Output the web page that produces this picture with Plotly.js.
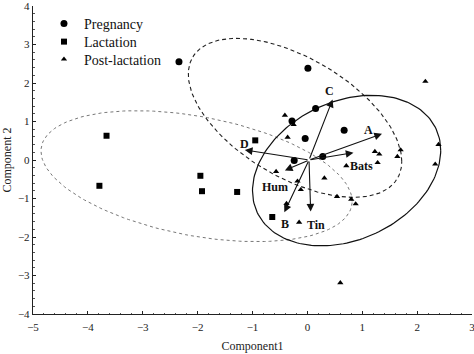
<!DOCTYPE html>
<html><head><meta charset="utf-8">
<script src="https://cdn.plot.ly/plotly-3.0.1.min.js"></script>
<style>html,body{margin:0;padding:0;background:#fff}</style>
</head><body><div id="chart" style="width:474px;height:354px"></div>
<script>
// Pregnancy (circles)
const pregX = [-2.34, 0.01, 0.15, -0.28, 0.67, -0.04, 0.28, -0.24];
const pregY = [2.55, 2.38, 1.34, 1.01, 0.77, 0.56, 0.09, -0.01];
// Lactation (squares)
const lactX = [-3.66, -3.79, -1.95, -1.92, -1.28, -0.95, -0.64];
const lactY = [0.63, -0.67, -0.41, -0.81, -0.83, 0.51, -1.48];
// Post-lactation (triangles)
const postX = [2.15, -0.41, -0.25, -0.36, 1.23, 1.31, 1.70, 1.64, 2.39, 2.33, 1.28, 0.71, -0.57, 0.31, -0.18, -0.12, 0.54, 0.80, 0.88, -0.15, 0.60, -0.38];
const postY = [2.04, 1.16, 0.92, 0.59, 0.22, 0.15, 0.26, 0.09, 0.40, -0.11, -0.07, -0.15, -0.30, -0.47, -0.55, -0.77, -0.95, -1.02, -1.14, -1.62, -3.19, -1.13];

// Ellipses: centre, half-extents, covariance-like term (Pregnancy, Lactation, Post-lactation)
const ellNames = ['Pregnancy', 'Lactation', 'Post-lactation'];
const ellCx = [-0.225, -2.02, 0.715];
const ellCy = [1.095, -0.42, -0.275];
const ellHx = [1.945, 2.835, 1.715];
const ellHy = [2.065, 1.70, 1.955];
const ellSxy = [-2.2, -1.85, 0.9];

// Biplot vectors
const vecOrigin = [0.03, 0.0];
const vecNames = ['A', 'B', 'C', 'D', 'Bats', 'Hum', 'Tin'];
const vecX = [1.36, -0.42, 0.46, -1.14, 0.84, -0.41, 0.06];
const vecY = [0.68, -1.36, 1.57, 0.26, 0.19, -0.27, -1.34];
const labX = [1.11, -0.41, 0.40, -1.14, 0.99, -0.59, 0.16];
const labY = [0.79, -1.66, 1.78, 0.42, -0.15, -0.70, -1.69];

const serif = 'Liberation Serif, Times New Roman, serif';

function ellipse(i) {
  const Sxx = ellHx[i] * ellHx[i], Syy = ellHy[i] * ellHy[i], Sxy = ellSxy[i];
  const L11 = Math.sqrt(Sxx), L21 = Sxy / L11, L22 = Math.sqrt(Math.max(Syy - L21 * L21, 0.01));
  const xs = [], ys = [];
  for (let k = 0; k <= 180; k++) {
    const t = 2 * Math.PI * k / 180;
    xs.push(ellCx[i] + L11 * Math.cos(t));
    ys.push(ellCy[i] + L21 * Math.cos(t) + L22 * Math.sin(t));
  }
  return [xs, ys];
}
const ellStyles = [
  {color: '#222', width: 1.1, dash: '4px,3px'},
  {color: '#777', width: 1, dash: 'dot'},
  {color: '#111', width: 1.2, dash: 'solid'}
];
const traces = [];
for (let i = 0; i < 3; i++) {
  const [xs, ys] = ellipse(i);
  traces.push({x: xs, y: ys, mode: 'lines', line: ellStyles[i], showlegend: false, hoverinfo: 'skip', name: ellNames[i] + ' ellipse'});
}
traces.push({x: pregX, y: pregY, mode: 'markers', name: 'Pregnancy', legend: 'legend', marker: {symbol: 'circle', size: 7, color: '#000'}});
traces.push({x: lactX, y: lactY, mode: 'markers', name: 'Lactation', legend: 'legend2', marker: {symbol: 'square', size: 6, color: '#000'}});
traces.push({x: postX, y: postY, mode: 'markers', name: 'Post-lactation', legend: 'legend3', marker: {symbol: 'triangle-up', size: 5.5, color: '#000'}});

const annotations = [];
for (let i = 0; i < vecNames.length; i++) {
  annotations.push({x: vecX[i], y: vecY[i], ax: vecOrigin[0], ay: vecOrigin[1], xref: 'x', yref: 'y', axref: 'x', ayref: 'y',
    text: '', showarrow: true, arrowhead: 2, arrowsize: 1.4, arrowwidth: 1.1, arrowcolor: '#111'});
  annotations.push({x: labX[i], y: labY[i], xref: 'x', yref: 'y', text: '<b>' + vecNames[i] + '</b>', showarrow: false,
    font: {family: serif, size: 12, color: '#111'}});
}

const legStyle = (y) => ({x: 0.025, y: y, xanchor: 'left', yanchor: 'top', bgcolor: 'rgba(0,0,0,0)',
  font: {family: serif, size: 14, color: '#111'}, itemsizing: 'trace'});

const layout = {
  width: 474, height: 354,
  margin: {l: 33, r: 2, t: 6, b: 40},
  paper_bgcolor: '#fff', plot_bgcolor: '#fff',
  font: {family: serif, color: '#222'},
  xaxis: {range: [-5, 3], dtick: 1, tick0: -5, showgrid: false, zeroline: false, showline: true, linecolor: '#222', linewidth: 1.2,
    ticks: 'inside', ticklen: 3, tickcolor: '#222', tickfont: {family: serif, size: 11, color: '#222'},
    ticklabeloverflow: 'allow', ticklabelstandoff: 3,
    minor: {dtick: 0.2, ticks: 'inside', ticklen: 1.5, tickcolor: '#555'},
    title: {text: 'Component1', font: {family: serif, size: 12, color: '#222'}, standoff: 9}},
  yaxis: {range: [-4, 4], dtick: 1, showgrid: false, zeroline: false, showline: true, linecolor: '#222', linewidth: 1.2,
    ticks: 'inside', ticklen: 3, tickcolor: '#222', tickfont: {family: serif, size: 11, color: '#222'},
    ticklabeloverflow: 'allow',
    minor: {dtick: 0.2, ticks: 'inside', ticklen: 1.5, tickcolor: '#555'},
    title: {text: 'Component 2', font: {family: serif, size: 12, color: '#222'}, standoff: 6}},
  legend: legStyle(0.994),
  legend2: legStyle(0.935),
  legend3: legStyle(0.878),
  annotations: annotations,
  showlegend: true
};
Plotly.newPlot('chart', traces, layout, {displayModeBar: false, staticPlot: true});
</script></body></html>
